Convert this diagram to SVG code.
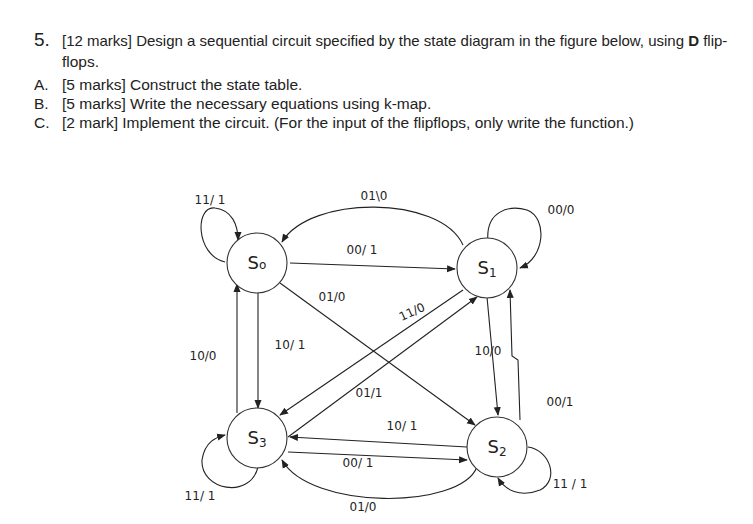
<svg xmlns="http://www.w3.org/2000/svg" width="753" height="524" viewBox="0 0 753 524">
<style>
.h{font-family:"Liberation Sans",Arial,sans-serif;font-size:15.5px;fill:#222}
.n{fill:#fff;stroke:#333;stroke-width:1.1}
.e{fill:none;stroke:#222;stroke-width:1.1}
.l{font-family:"DejaVu Sans",sans-serif;font-size:12px;fill:#222;text-anchor:middle}
.s{font-family:"DejaVu Sans",sans-serif;font-size:18px;fill:#222;text-anchor:middle}
.sub{font-size:12px}
</style>
<defs><marker id="a" viewBox="0 0 10 10" refX="9" refY="5" markerWidth="8" markerHeight="8" orient="auto"><path d="M0,1 L10,5 L0,9 z" fill="#222"/></marker></defs>
<rect width="753" height="524" fill="#fff"/>
<g id="header">
<text x="34" y="46" class="h" style="font-size:19px">5.</text>
<text x="62" y="46" class="h" style="font-size:15px">[12 marks] Design a sequential circuit specified by the state diagram in the figure below, using <tspan font-weight="bold">D</tspan> flip-</text>
<text x="62" y="67" class="h">flops.</text>
<text x="34" y="90" class="h">A.</text><text x="62" y="90" class="h">[5 marks] Construct the state table.</text>
<text x="34" y="109" class="h">B.</text><text x="62" y="109" class="h">[5 marks] Write the necessary equations using k-map.</text>
<text x="34" y="128" class="h">C.</text><text x="62" y="128" class="h">[2 mark] Implement the circuit. (For the input of the flipflops, only write the function.)</text>
</g>
<g id="connectors">
<path class="e" marker-end="url(#a)" d="M290,263 L455,269"/>
<path class="e" marker-end="url(#a)" d="M463,245 C440,195 310,195 282,242"/>
<path class="e" marker-end="url(#a)" d="M225,262 C195,255 195,205 215,208 C232,210 238,225 238,240"/>
<path class="e" marker-end="url(#a)" d="M488,242 C485,210 510,205 527,210 C548,218 545,258 520,268"/>
<path class="e" marker-end="url(#a)" d="M258,292 L258,408"/>
<path class="e" marker-end="url(#a)" d="M237,413 L237,284"/>
<path class="e" marker-end="url(#a)" d="M280,283 L475,425"/>
<path class="e" marker-end="url(#a)" d="M463,290 L280,415"/>
<path class="e" marker-end="url(#a)" d="M288,437 L477,297"/>
<path class="e" marker-end="url(#a)" d="M487,297 L498,415"/>
<path class="e" marker-end="url(#a)" d="M520,420 L518,360 L512,356 L510,290"/>
<path class="e" marker-end="url(#a)" d="M467,447 L290,437"/>
<path class="e" marker-end="url(#a)" d="M288,452 L467,460"/>
<path class="e" marker-end="url(#a)" d="M477,467 C460,510 310,510 282,460"/>
<path class="e" marker-end="url(#a)" d="M258,467 C250,500 200,490 202,460 C205,440 218,437 225,435"/>
<path class="e" marker-end="url(#a)" d="M528,447 C550,450 560,480 540,490 C520,498 505,490 498,478"/>
</g>
<g id="labels">
<text class="l" x="374" y="200">01\0</text>
<text class="l" x="362" y="254">00/ 1</text>
<text class="l" x="210" y="204">11/ 1</text>
<text class="l" x="561" y="214">00/0</text>
<text class="l" x="332" y="301">01/0</text>
<text class="l" x="412" y="316" transform="rotate(-25 412 312)">11/0</text>
<text class="l" x="290" y="349">10/ 1</text>
<text class="l" x="203" y="360">10/0</text>
<text class="l" x="488" y="355">10/0</text>
<text class="l" x="369" y="397">01/1</text>
<text class="l" x="560" y="406">00/1</text>
<text class="l" x="402" y="430">10/ 1</text>
<text class="l" x="358" y="467">00/ 1</text>
<text class="l" x="363" y="511">01/0</text>
<text class="l" x="200" y="500">11/ 1</text>
<text class="l" x="570" y="488">11 / 1</text>
</g>
<g id="S0"><circle class="n" cx="257" cy="263" r="30"/><text class="s" x="257" y="269">S<tspan class="sub">o</tspan></text></g>
<g id="S1"><circle class="n" cx="487" cy="268" r="30"/><text class="s" x="487" y="274">S<tspan class="sub" dy="3">1</tspan></text></g>
<g id="S2"><circle class="n" cx="497" cy="447" r="30"/><text class="s" x="497" y="453">S<tspan class="sub" dy="3">2</tspan></text></g>
<g id="S3"><circle class="n" cx="257" cy="438" r="30"/><text class="s" x="257" y="444">S<tspan class="sub" dy="3">3</tspan></text></g>
</svg>
